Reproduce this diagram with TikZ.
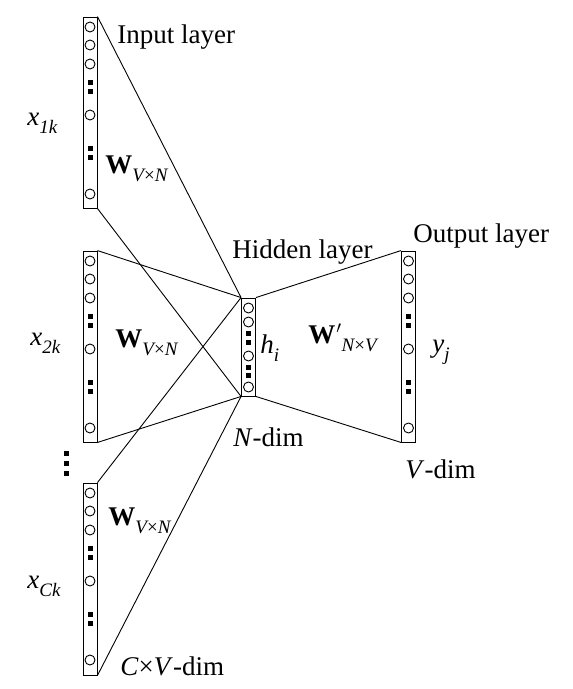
\documentclass[tikz,border=0pt]{standalone}
\usepackage{fontspec}
\setmainfont{Liberation Serif}
\newcommand{\lowsub}[1]{\raisebox{-0.3em}{\fontsize{19}{20}\selectfont\itshape #1}}
\newcommand{\Wvn}{\textbf{W}\lowsub{V\upshape×\itshape N}}
\newcommand{\Wnv}{\textbf{W}\kern1pt$'$\lowsub{N\upshape×\itshape V}}
\begin{document}
\begin{tikzpicture}[x=1pt,y=-1pt,line width=0.9pt,
	layer/.style={draw,minimum width=14pt,inner sep=0pt},
	unit/.style={circle,draw,minimum size=10pt,inner sep=0pt},
	dot/.style={fill,minimum size=5pt,inner sep=0pt},
	lbl/.style={anchor=base west,inner sep=0pt,font=\fontsize{27}{32}\selectfont}]
		\useasboundingbox (0,0) rectangle (573,689);
		%
		\node[layer,minimum height=191pt] (in1) at (90,112.5) {};
		\node[layer,minimum height=191pt] (in2) at (90,346.5) {};
		\node[layer,minimum height=192pt] (in3) at (90,579) {};
		\node[layer,minimum height=98pt] (hid) at (248.5,347) {};
		\node[layer,minimum height=191pt] (out) at (408.5,346.5) {};
		%
		\foreach \x/\t in {90/17,90/251,90/483,408.5/251} {
			\foreach \d in {10,28,47,98,177}
				\node[unit] at (\x,\t+\d) {};
			\foreach \d in {65,74,131,140}
				\node[dot] at (\x,\t+\d) {};
		}
		\foreach \y in {308,322,356,387}
			\node[unit] at (248.5,\y) {};
		\foreach \y in {333,342,367,375}
			\node[dot] at (248.5,\y) {};
		\foreach \y in {453,463,473}
			\node[dot] at (66,\y) {};
		%
		\draw (in1.north east) -- (hid.north west);
		\draw (in1.south east) -- (hid.south west);
		\draw (in2.north east) -- (hid.north west);
		\draw (in2.south east) -- (hid.south west);
		\draw (in3.north east) -- (hid.north west);
		\draw (in3.south east) -- (hid.south west);
		\draw (hid.north east) -- (out.north west);
		\draw (hid.south east) -- (out.south west);
		%
		\node[lbl] (lin) at (117,43) {Input layer};
		\node[lbl] (lhid) at (232,258) {Hidden layer};
		\node[lbl] (lout) at (413,242) {Output layer};
		\node[lbl] (lndim) at (233,446) {\textit{N}-dim};
		\node[lbl] (lvdim) at (405,478) {\textit{V}-dim};
		\node[lbl] (lcvdim) at (120,675) {\textit{C}×\textit{V}-dim};
		%
		\node[lbl] (lx1) at (27,125) {\textit{x}\lowsub{1k}};
		\node[lbl] (lx2) at (30,345) {\textit{x}\lowsub{2k}};
		\node[lbl] (lxc) at (27,588) {\textit{x}\lowsub{Ck}};
		\node[lbl] (lw1) at (105,173) {\Wvn};
		\node[lbl] (lw2) at (115,347) {\Wvn};
		\node[lbl] (lw3) at (108,525) {\Wvn};
		\node[lbl] (lwo) at (308,343) {\Wnv};
		\node[lbl] (lh) at (260,353) {\textit{h}\lowsub{i}};
		\node[lbl] (ly) at (432,352) {\textit{y}\lowsub{j}};
		%
\end{tikzpicture}
\end{document}
